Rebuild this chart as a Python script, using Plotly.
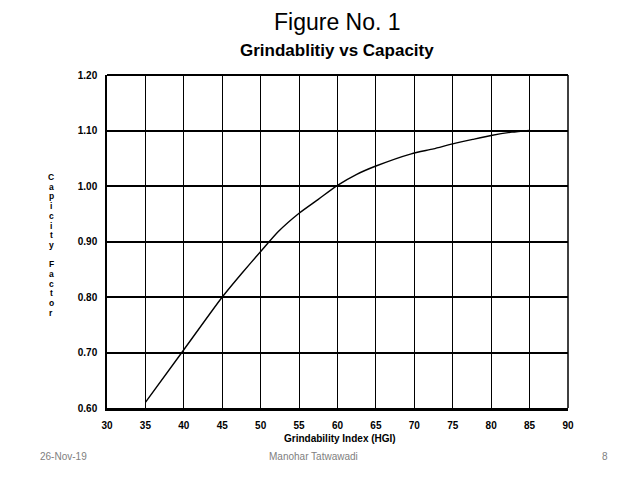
import plotly.graph_objects as go

hgi = [35, 40, 45, 47.5, 50, 52.3, 55, 57.5, 60, 62.5, 65, 69.6, 72.5, 75, 77.6, 80, 82.7, 85]
capacity = [0.61, 0.705, 0.80, 0.842, 0.882, 0.918, 0.951, 0.976, 1.001, 1.021, 1.036, 1.058, 1.067, 1.076, 1.084, 1.091, 1.097, 1.10]

x_ticks = [30, 35, 40, 45, 50, 55, 60, 65, 70, 75, 80, 85, 90]
y_ticks = [0.60, 0.70, 0.80, 0.90, 1.00, 1.10, 1.20]
y_tick_labels = ["0.60", "0.70", "0.80", "0.90", "1.00", "1.10", "1.20"]

title1 = "Figure No. 1"
title2 = "Grindablitiy vs Capacity"
x_title = "Grindability Index (HGI)"
y_title = "Capicity Factor"
footer_left = "26-Nov-19"
footer_mid = "Manohar Tatwawadi"
footer_right = "8"

fig = go.Figure()
fig.add_trace(go.Scatter(x=hgi, y=capacity, mode="lines",
                         line=dict(color="black", width=1.4, shape="spline", smoothing=0.6),
                         showlegend=False, hoverinfo="skip"))

fig.update_layout(
    width=638, height=478,
    margin=dict(l=107, r=70, t=75, b=70),
    paper_bgcolor="white", plot_bgcolor="white",
    font=dict(family="Liberation Sans", color="black"),
    xaxis=dict(range=[30, 90], tickvals=x_ticks, showgrid=True, gridcolor="black", gridwidth=1,
               showline=True, linecolor="black", linewidth=2.5, mirror=False, zeroline=False,
               ticks="", tickfont=dict(size=10, family="Liberation Sans", weight="bold"),
               ticklabelstandoff=6),
    yaxis=dict(range=[0.60, 1.20], tickvals=y_ticks, ticktext=y_tick_labels, showgrid=True,
               gridcolor="black", gridwidth=2, showline=True, linecolor="black", linewidth=1.5,
               mirror=False, zeroline=False, ticks="",
               tickfont=dict(size=10, family="Liberation Sans", weight="bold"),
               ticklabelstandoff=6),
)

# top and right borders
fig.add_shape(type="line", xref="paper", yref="paper", x0=0, x1=1, y0=1, y1=1,
              line=dict(color="black", width=2))
fig.add_shape(type="line", xref="paper", yref="paper", x0=1, x1=1, y0=0, y1=1,
              line=dict(color="black", width=1.5))


def paper_y(py):
    top, bottom = 75, 408
    return (bottom - py) / (bottom - top)


def paper_x(px):
    left, right = 107, 568
    return (px - left) / (right - left)


fig.add_annotation(text=title1, xref="paper", yref="paper", x=paper_x(337), y=paper_y(22),
                   showarrow=False, xanchor="center", yanchor="middle",
                   font=dict(size=23, family="Liberation Sans", color="black"))
fig.add_annotation(text=title2, xref="paper", yref="paper", x=paper_x(337), y=paper_y(50),
                   showarrow=False, xanchor="center", yanchor="middle",
                   font=dict(size=17, family="Liberation Sans", color="black", weight="bold"))
fig.add_annotation(text=x_title, xref="paper", yref="paper", x=paper_x(340), y=paper_y(438),
                   showarrow=False, xanchor="center", yanchor="middle",
                   font=dict(size=10, family="Liberation Sans", color="black", weight="bold"))

# stacked vertical y-axis title, one letter per line
for i, ch in enumerate(y_title):
    if ch == " ":
        continue
    fig.add_annotation(text=ch, xref="paper", yref="paper", x=paper_x(51),
                       y=paper_y(177 + i * 9.7), showarrow=False,
                       xanchor="center", yanchor="middle",
                       font=dict(size=8.5, family="Liberation Sans", color="black", weight="bold"))

fig.add_annotation(text=footer_left, xref="paper", yref="paper", x=paper_x(38), y=paper_y(457),
                   showarrow=False, xanchor="left", yanchor="middle",
                   font=dict(size=10, family="Liberation Sans", color="#808080"))
fig.add_annotation(text=footer_mid, xref="paper", yref="paper", x=paper_x(313), y=paper_y(457),
                   showarrow=False, xanchor="center", yanchor="middle",
                   font=dict(size=10, family="Liberation Sans", color="#808080"))
fig.add_annotation(text=footer_right, xref="paper", yref="paper", x=paper_x(605), y=paper_y(457),
                   showarrow=False, xanchor="center", yanchor="middle",
                   font=dict(size=10, family="Liberation Sans", color="#808080"))

fig.write_html("out.html")
